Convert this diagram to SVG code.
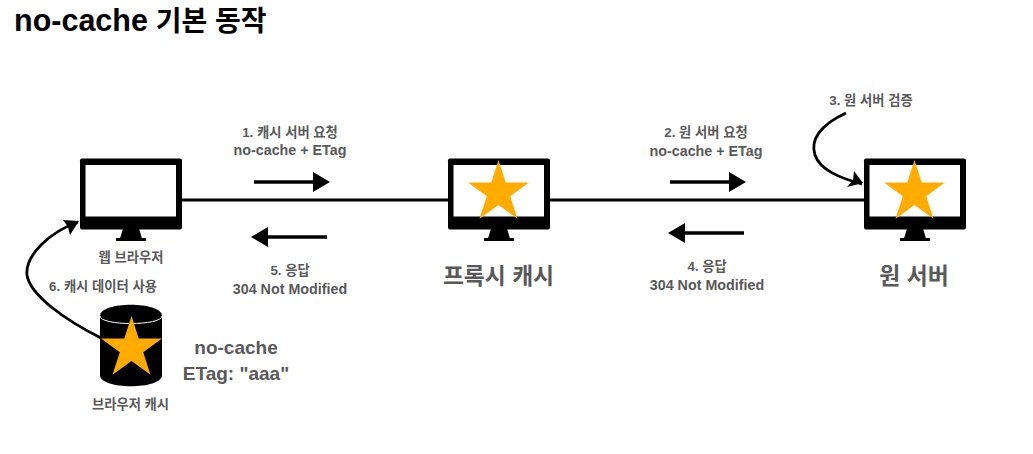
<svg xmlns="http://www.w3.org/2000/svg" width="1033" height="454" viewBox="0 0 1033 454">
<style>
text{font-family:"Liberation Sans","Noto Sans CJK KR",sans-serif;font-weight:700;fill:#595959;text-anchor:middle}
.s{font-size:13.300px}
.m{font-size:14.300px}
.l{font-size:22.800px}
.b{font-size:19px}
.line{fill:none;stroke:#000;stroke-width:2.800}
.arr{fill:none;stroke:#000;stroke-width:3.400}
.cur{fill:none;stroke:#000;stroke-width:2.800}
.star{fill:#ffab00}
</style>
<defs>
<g id="monitor">
<rect x="0" y="0" width="102" height="71" rx="2" fill="#000"/>
<rect x="5.500" y="6.500" width="90.500" height="51.500" fill="#fff"/>
<path d="M43 70H59L62 80H40Z" fill="#000"/>
<rect x="36" y="79.500" width="30" height="3" fill="#000"/>
</g>
<polygon id="star" class="star" points="30.500,0 37.700,22.500 61,22.500 42.200,36.300 49.500,58.800 30.500,45 11.500,58.800 18.800,36.300 0,22.500 23.300,22.500"/>
<path id="head" d="M0 0L-17 -10V10Z" fill="#000"/>
</defs>
<rect width="1033" height="454" fill="#fff"/>
<text x="14" y="31" style="fill:#000;font-size:28px;text-anchor:start"><tspan style="font-size:30.500px">no-cache</tspan> 기본 동작</text>
<g id="connectors">
<path class="line" d="M182 200H448M550 200H864"/>
<path class="arr" d="M254 182H318"/><use href="#head" transform="translate(330,182)"/>
<path class="arr" d="M327 237H262"/><use href="#head" transform="translate(251,237) rotate(180)"/>
<path class="arr" d="M670 182H735"/><use href="#head" transform="translate(746,182)"/>
<path class="arr" d="M744 233H680"/><use href="#head" transform="translate(668,233) rotate(180)"/>
<path class="cur" d="M846 113C820 125 810 140 815 155C820 170 840 178 862 184"/>
<path d="M863 183L847 187L853 180L854 171Z" fill="#000"/>
<path class="cur" d="M101 338C65 320 30 295 27 275C25 255 50 232 78 222"/>
<path d="M79 221L70 235L68 227L63 220Z" fill="#000"/>
</g>
<g id="browser"><use href="#monitor" x="80" y="158.500"/><text class="s" x="131" y="262">웹 브라우저</text></g>
<g id="proxy"><use href="#monitor" x="448" y="158.500"/><use href="#star" x="468" y="160"/><text class="l" x="498.500" y="284">프록시 캐시</text></g>
<g id="origin"><use href="#monitor" x="864" y="158.500"/><use href="#star" x="884" y="160"/><text class="l" x="914" y="284">원 서버</text></g>
<g id="cache">
<path d="M100 316C100 301 162 301 162 316V375C162 390 100 390 100 375Z" fill="#000"/>
<path d="M100 316C100 326 162 326 162 316" fill="none" stroke="#fff" stroke-width="1"/>
<use href="#star" x="101" y="316"/>
<text class="s" x="130.500" y="409">브라우저 캐시</text>
</g>
<g id="labels">
<text class="s" x="290" y="137">1. 캐시 서버 요청</text><text class="m" x="290" y="155">no-cache + ETag</text>
<text class="s" x="290" y="275">5. 응답</text><text class="m" x="290" y="294">304 Not Modified</text>
<text class="s" x="706" y="137">2. 원 서버 요청</text><text class="m" x="706" y="156">no-cache + ETag</text>
<text class="s" x="707" y="271">4. 응답</text><text class="m" x="707" y="290">304 Not Modified</text>
<text class="s" x="871" y="105">3. 원 서버 검증</text>
<text class="s" x="103" y="291">6. 캐시 데이터 사용</text>
<text class="b" x="236" y="354">no-cache</text>
<text class="b" x="236" y="380">ETag: "aaa"</text>
</g>
</svg>
